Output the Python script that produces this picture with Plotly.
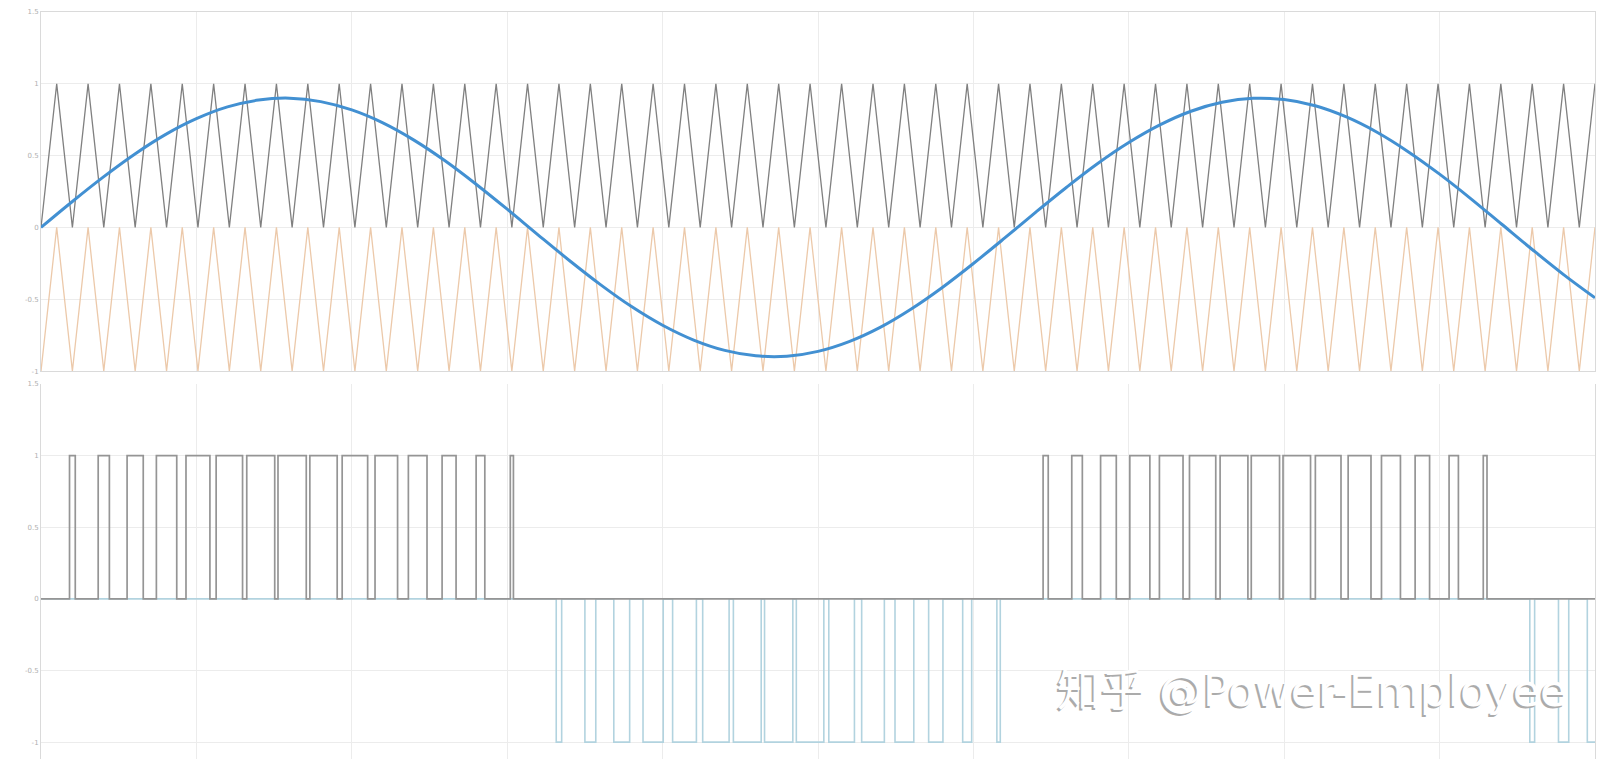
import plotly.graph_objects as go

# modulating wave, t in grid divisions 0..10
sine_t = [0.0, 0.2, 0.4, 0.6, 0.8, 1.0, 1.2, 1.4, 1.6, 1.8, 2.0, 2.2, 2.4, 2.6, 2.8,
          3.0, 3.2, 3.4, 3.6, 3.8, 4.0, 4.2, 4.4, 4.6, 4.8, 5.0, 5.2, 5.4, 5.6, 5.8,
          6.0, 6.2, 6.4, 6.6, 6.8, 7.0, 7.2, 7.4, 7.6, 7.8, 8.0, 8.2, 8.4, 8.6, 8.8,
          9.0, 9.2, 9.4, 9.6, 9.8, 10.0]
sine_v = [0.0, 0.179, 0.350, 0.508, 0.646, 0.757, 0.839, 0.887, 0.900, 0.876, 0.818,
          0.728, 0.608, 0.464, 0.301, 0.127, -0.053, -0.230, -0.398, -0.551, -0.681,
          -0.784, -0.856, -0.894, -0.897, -0.863, -0.795, -0.696, -0.568, -0.418,
          -0.251, -0.075, 0.105, 0.280, 0.445, 0.591, 0.714, 0.809, 0.871, 0.899,
          0.890, 0.847, 0.769, 0.661, 0.526, 0.371, 0.201, 0.022, -0.157, -0.330,
          -0.490]

# triangle carrier vertices
carrier_t = [0.000, 0.101, 0.202, 0.303, 0.404, 0.505, 0.606, 0.707, 0.808, 0.909,
             1.010, 1.111, 1.212, 1.313, 1.414, 1.515, 1.616, 1.717, 1.818, 1.919,
             2.020, 2.121, 2.222, 2.323, 2.424, 2.525, 2.626, 2.727, 2.828, 2.929,
             3.030, 3.131, 3.232, 3.333, 3.434, 3.535, 3.636, 3.737, 3.838, 3.939,
             4.040, 4.141, 4.242, 4.343, 4.444, 4.545, 4.646, 4.747, 4.848, 4.949,
             5.051, 5.152, 5.253, 5.354, 5.455, 5.556, 5.657, 5.758, 5.859, 5.960,
             6.061, 6.162, 6.263, 6.364, 6.465, 6.566, 6.667, 6.768, 6.869, 6.970,
             7.071, 7.172, 7.273, 7.374, 7.475, 7.576, 7.677, 7.778, 7.879, 7.980,
             8.081, 8.182, 8.283, 8.384, 8.485, 8.586, 8.687, 8.788, 8.889, 8.990,
             9.091, 9.192, 9.293, 9.394, 9.495, 9.596, 9.697, 9.798, 9.899, 10.000]
carrier_upper = [0, 1] * 50
carrier_lower = [-1, 0] * 50

# PWM pulses: centre and width of each pulse
pos_centers = [0.202, 0.404, 0.606, 0.808, 1.010, 1.212, 1.414, 1.616, 1.818, 2.020,
               2.222, 2.424, 2.626, 2.828, 3.030,
               6.465, 6.667, 6.869, 7.071, 7.273, 7.475, 7.677, 7.879, 8.081, 8.283,
               8.485, 8.687, 8.889, 9.091, 9.293]
pos_widths = [0.037, 0.072, 0.104, 0.131, 0.154, 0.170, 0.180, 0.182, 0.176, 0.164,
              0.145, 0.120, 0.090, 0.056, 0.020,
              0.033, 0.068, 0.101, 0.129, 0.152, 0.169, 0.179, 0.182, 0.177, 0.165,
              0.147, 0.122, 0.093, 0.060, 0.024]
neg_centers = [3.333, 3.535, 3.737, 3.939, 4.141, 4.343, 4.545, 4.747, 4.949, 5.152,
               5.354, 5.556, 5.758, 5.960, 6.162,
               9.596, 9.798, 10.000]
neg_widths = [0.035, 0.070, 0.102, 0.130, 0.153, 0.170, 0.179, 0.182, 0.177, 0.165,
              0.146, 0.121, 0.092, 0.058, 0.022,
              0.031, 0.066, 0.099]

yticks = [-1, -0.5, 0, 0.5, 1, 1.5]


def pulse_steps(centers, widths, level):
    xs, ys = [0.0], [0]
    for c, w in zip(centers, widths):
        a, b = c - w / 2, c + w / 2
        xs += [a, a, b, b]
        ys += [0, level, level, 0]
    xs.append(10.0)
    ys.append(0)
    return xs, ys


fig = go.Figure()

# top panel: carriers + modulating wave
fig.add_trace(go.Scatter(x=carrier_t, y=carrier_lower, mode="lines",
                         line=dict(color="#ecc9aa", width=1.3), xaxis="x", yaxis="y"))
fig.add_trace(go.Scatter(x=carrier_t, y=carrier_upper, mode="lines",
                         line=dict(color="#808080", width=1.3), xaxis="x", yaxis="y"))
fig.add_trace(go.Scatter(x=sine_t, y=sine_v, mode="lines", line_shape="spline",
                         line=dict(color="#4290d2", width=3), xaxis="x", yaxis="y"))

# bottom panel: PWM output
nx, ny = pulse_steps(neg_centers, neg_widths, -1)
fig.add_trace(go.Scatter(x=nx, y=ny, mode="lines",
                         line=dict(color="#b2d3df", width=1.6), xaxis="x2", yaxis="y2"))
px_, py_ = pulse_steps(pos_centers, pos_widths, 1)
fig.add_trace(go.Scatter(x=px_, y=py_, mode="lines",
                         line=dict(color="#959595", width=1.7), xaxis="x2", yaxis="y2"))

axis_common = dict(range=[0, 10], dtick=1, showticklabels=False, ticks="",
                   showgrid=True, gridcolor="#ececec", gridwidth=1, zeroline=False)
yaxis_common = dict(tickvals=yticks, ticktext=["-1", "-0.5", "0", "0.5", "1", "1.5"],
                    tickfont=dict(size=7, color="#b0b0b0", family="DejaVu Sans"),
                    showgrid=True, gridcolor="#ececec", gridwidth=1, zeroline=False,
                    showline=True, linecolor="#dadada", mirror=True, ticks="")

fig.update_layout(
    width=1607, height=759,
    margin=dict(l=33, r=20, t=4, b=0),
    paper_bgcolor="white", plot_bgcolor="white",
    showlegend=False,
    xaxis=dict(axis_common, domain=[0, 1], anchor="y",
               showline=True, linecolor="#dadada", mirror=True),
    yaxis=dict(yaxis_common, domain=[0.5219, 1.0], range=[-1, 1.5], anchor="x"),
    xaxis2=dict(axis_common, domain=[0, 1], anchor="y2", matches="x", showline=False),
    yaxis2=dict(yaxis_common, domain=[0, 0.5046], range=[-1.146, 1.5], anchor="x2"),
)

fig.add_annotation(
    text="知乎 @Power-Employee", xref="paper", yref="paper",
    x=0.818, y=0.097, xanchor="center", yanchor="middle", showarrow=False,
    font=dict(size=44, color="#ffffff", family="DejaVu Sans, Noto Sans CJK SC",
              shadow="-2px 2px 0px #ababab"),
)

fig.write_html("out.html")
